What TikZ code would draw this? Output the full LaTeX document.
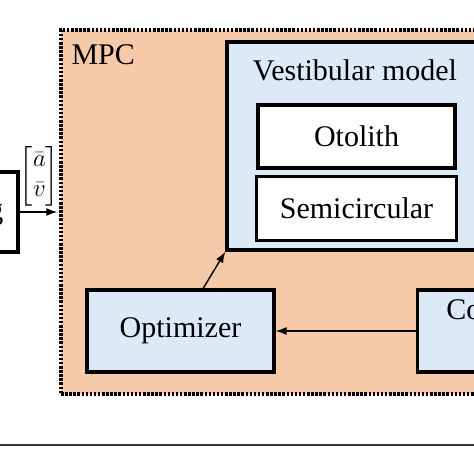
\documentclass[tikz,border=0pt]{standalone}
\usepackage{amsmath}
\usepackage{fontspec}
\setmainfont{Liberation Serif}
\usepackage{tikz}
\usetikzlibrary{arrows,arrows.meta}
\usetikzlibrary{positioning}
\definecolor{peach}{HTML}{F6C9A8}
\definecolor{paleblue}{HTML}{DCE9F6}
\newcommand{\blockfont}{\fontsize{30}{40}\selectfont}
\tikzstyle{block} = [
	draw,
	line width=3.3pt,
	fill=paleblue,
	align=center,
	font=\blockfont
]
\tikzstyle{subblock} = [
	draw,
	line width=3.3pt,
	fill=white,
	minimum width=197pt,
	minimum height=63pt,
	font=\blockfont
]
\tikzstyle{region} = [
	draw,
	line width=3.4pt,
	dash pattern=on 2.5pt off 1.6pt,
	fill=peach
]
\tikzstyle{link} = [
	-{Latex[length=11pt,width=8pt]},
	line width=1.4pt
]

\begin{document}
\begin{tikzpicture}[x=1pt, y=-1pt, node distance=5pt]
	\useasboundingbox (0,0) rectangle (474,474);
	\clip (0,0) rectangle (474,474);
	\node[region, name = mpc, minimum width=470pt, minimum height=364pt] at (296,212) {};
	\node[name = mpclabel, anchor=base west, font=\blockfont] at (68,64) {MPC};
	\node[block, name = vest, minimum width=259pt, minimum height=208pt] at (356.5,146) {};
	\node[name = vestlabel, anchor=base, font=\blockfont] at (355,80) {Vestibular model};
	\node[subblock, name = oto] at (356.5,136.5) {Otolith};
	\node[subblock, name = semi, below = of oto, minimum width=200pt, minimum height=64pt] {Semicircular};
	\node[block, name = opt, minimum width=187pt, minimum height=82pt] at (180.5,331) {Optimizer};
	\node[block, name = cost, anchor=west, minimum width=220pt, minimum height=82pt] at (416,331) {Cost function\\ $\boldsymbol{e}^{T}Q\,\boldsymbol{e}$};
	\node[draw, line width=3.3pt, fill=white, name = plan, minimum width=136pt, minimum height=80pt, font=\blockfont] at (-50,212) {Planning};

	\draw[link, shorten >=2pt] (plan.east) -- (plan.east -| mpc.west) node[midway, above=2pt, font=\fontsize{25}{30}\selectfont]{$\begin{bmatrix}\bar{a}\\ \bar{v}\end{bmatrix}$};
	\draw[link] (opt.62) -- (vest.south west);
	\draw[link] (cost.west) -- (opt.east);
	\draw[line width=2.2pt, black!80] (0,445) -- (474,445);

\end{tikzpicture}
\end{document}
